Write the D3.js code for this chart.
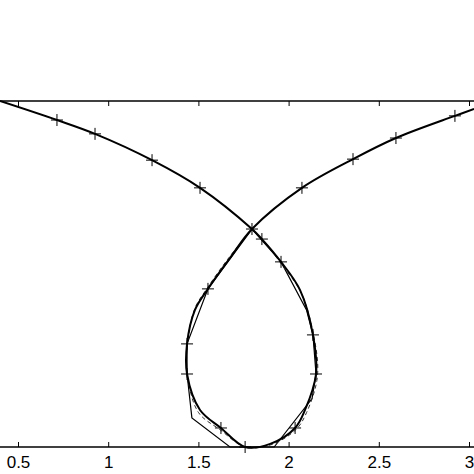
<!DOCTYPE html><html><head><meta charset="utf-8"><script src="https://cdn.jsdelivr.net/npm/d3@7"></script>
<style>body{margin:0;background:#fff}svg{display:block}</style></head><body><svg width="474" height="474"></svg>
<script>
const xTicks=[0.5,1,1.5,2,2.5,3];
const tickLabels=["0.5","1","1.5","2","2.5","3"];
const mainX=[0.40,0.716,0.927,1.243,1.509,1.797,1.852,1.958,2.063,2.135,2.152,2.091,2.036,1.898,1.759,1.625,1.509,1.437,1.437,1.481,1.553,1.675,1.797,2.074,2.357,2.595,2.922,3.028];
const mainY=[1.0,0.945,0.905,0.829,0.749,0.630,0.601,0.535,0.454,0.324,0.211,0.107,0.055,0.009,0,0.055,0.107,0.211,0.298,0.396,0.457,0.546,0.630,0.749,0.832,0.893,0.957,0.977];
const dashX=[1.797,1.852,1.958,2.07,2.14,2.16,2.10,2.04,1.90,1.76,1.62,1.50,1.44,1.44,1.48,1.55,1.67,1.797];
const dashY=[0.630,0.600,0.530,0.445,0.320,0.205,0.100,0.050,0.006,0,0.050,0.100,0.205,0.300,0.400,0.460,0.548,0.630];
const coarseX=[1.797,1.958,2.10,2.135,2.152,2.13,1.92,1.675,1.464,1.437,1.437,1.553,1.797];
const coarseY=[0.630,0.535,0.395,0.324,0.211,0.14,0,0,0.084,0.211,0.298,0.457,0.630];
const markX=[0.716,0.927,1.243,1.509,1.797,1.852,1.958,2.135,2.152,2.036,1.759,1.625,1.437,1.437,1.553,2.074,2.357,2.595,2.922];
const markY=[0.945,0.905,0.829,0.749,0.630,0.601,0.535,0.324,0.211,0.055,0,0.055,0.211,0.298,0.457,0.749,0.832,0.893,0.957];
const svg=d3.select("svg");
const x=d3.scaleLinear().domain([0.5,3]).range([18,469]);
const y=d3.scaleLinear().domain([0,1]).range([447,101]);
const line=d3.line().x(d=>x(d[0])).y(d=>y(d[1])).curve(d3.curveCatmullRom);
const zip=(a,b)=>a.map((v,i)=>[v,b[i]]);
svg.append("path").attr("d",d3.line().x(d=>x(d[0])).y(d=>y(d[1]))(zip(coarseX,coarseY))).attr("fill","none").attr("stroke","#000").attr("stroke-width",1.2);
svg.append("path").attr("d",line(zip(dashX,dashY))).attr("fill","none").attr("stroke","#333").attr("stroke-width",1).attr("stroke-dasharray","4,3");
svg.append("path").attr("d",line(zip(mainX,mainY))).attr("fill","none").attr("stroke","#000").attr("stroke-width",2);
svg.selectAll(".m").data(zip(markX,markY)).enter().append("path").attr("d",d=>`M${x(d[0])-6},${y(d[1])}h12M${x(d[0])},${y(d[1])-6}v12`).attr("stroke","#000").attr("stroke-width",1);
const bx=svg.append("g").attr("transform","translate(0,447)").call(d3.axisBottom(x).tickValues(xTicks).tickFormat((d,i)=>tickLabels[i]).tickSizeInner(-5).tickSizeOuter(0).tickPadding(9));
const tx=svg.append("g").attr("transform","translate(0,101)").call(d3.axisTop(x).tickValues(xTicks).tickFormat("").tickSizeInner(-5).tickSizeOuter(0));
[bx,tx].forEach(g=>{g.select(".domain").attr("d","M0,0H474").attr("stroke","#000").attr("stroke-width",1.5);g.selectAll(".tick line").attr("stroke","#000");});
bx.selectAll("text").attr("font-family","Liberation Sans, Arial").attr("font-size",17).attr("fill","#000");
</script></body></html>
